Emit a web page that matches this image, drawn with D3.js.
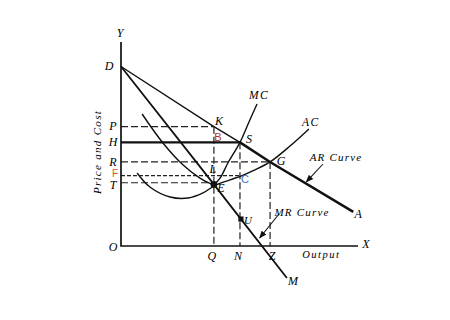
<!DOCTYPE html>
<html>
<head>
<meta charset="utf-8">
<script src="https://cdn.jsdelivr.net/npm/d3@7"></script>
<style>
  body { margin: 0; background: #fff; }
  text { font-family: "Liberation Serif", "DejaVu Serif", serif; font-style: italic; fill: #000; }
  .sans { font-family: "Liberation Sans", Arial, sans-serif; font-style: normal; }
</style>
</head>
<body>
<svg id="chart" width="450" height="320"></svg>
<script>
// curves in (output, price) units
var arCurve = [[0, 8.8], [3.92, 5.85], [5.02, 5.08]];
var arThick = [[5.02, 5.08], [6.29, 4.12], [9.8, 1.67]];
var mrCurve = [[0, 8.8], [3.92, 3.02], [5.06, 1.32], [7.0, -1.57]];
var mcCurve = [[0.89, 6.47], [1.77, 5.05], [2.62, 3.97], [3.33, 3.33], [3.71, 3.09], [3.92, 3.03],
               [4.18, 3.33], [4.51, 4.07], [5.02, 5.08], [5.40, 6.08], [5.74, 6.96]];
var acCurve = [[0.68, 3.58], [1.22, 2.89], [2.07, 2.40], [2.83, 2.35], [3.46, 2.60], [3.92, 2.94],
               [4.60, 3.24], [5.06, 3.43], [5.65, 3.73], [6.29, 4.12], [7.13, 4.90], [7.93, 5.74]];

// price levels and outputs
var priceLabels = ["P", "H", "R", "F", "T"];
var priceValues = [5.85, 5.08, 4.12, 3.45, 3.1];
var priceEnds   = [3.92, 5.02, 6.29, 5.06, 3.92];
var outputLabels = ["Q", "N", "Z"];
var outputValues = [3.92, 5.02, 6.29];
var outputTops   = [5.85, 5.08, 4.12];

var x = d3.scaleLinear().domain([0, 10]).range([121, 358]);
var y = d3.scaleLinear().domain([0, 10]).range([246, 42]);

var svg = d3.select("#chart");
var line = d3.line().x(function(d) { return x(d[0]); }).y(function(d) { return y(d[1]); });
var smooth = d3.line().curve(d3.curveCatmullRom.alpha(0.5))
    .x(function(d) { return x(d[0]); }).y(function(d) { return y(d[1]); });

svg.append("defs").append("marker")
    .attr("id", "arrow").attr("viewBox", "0 0 10 10")
    .attr("refX", 9).attr("refY", 5)
    .attr("markerWidth", 7).attr("markerHeight", 7)
    .attr("orient", "auto")
  .append("path").attr("d", "M0,1 L10,5 L0,9 Z").attr("fill", "#111");

// dashed guides
priceValues.forEach(function(v, i) {
  if (priceLabels[i] == "H") return;
  svg.append("line")
      .attr("x1", x(0)).attr("x2", x(priceEnds[i]))
      .attr("y1", y(v)).attr("y2", y(v))
      .attr("stroke", "#222").attr("stroke-width", 1.2)
      .attr("stroke-dasharray", priceLabels[i] == "F" ? "4,2" : "7,3");
});
outputValues.forEach(function(v, i) {
  svg.append("line")
      .attr("x1", x(v)).attr("x2", x(v))
      .attr("y1", y(outputTops[i])).attr("y2", y(0))
      .attr("stroke", "#222").attr("stroke-width", 1.2)
      .attr("stroke-dasharray", "7,3");
});

// H thick line
svg.append("line")
    .attr("x1", x(0)).attr("x2", x(priceEnds[1]))
    .attr("y1", y(priceValues[1])).attr("y2", y(priceValues[1]))
    .attr("stroke", "#111").attr("stroke-width", 2.4);

// axes
svg.append("path")
    .attr("d", "M" + x(0) + "," + y(10) + "V" + y(0) + "H" + x(10))
    .attr("fill", "none").attr("stroke", "#111").attr("stroke-width", 1.7);

// curves
svg.append("path").datum(arCurve).attr("d", line)
    .attr("fill", "none").attr("stroke", "#111").attr("stroke-width", 1.4);
svg.append("path").datum(arThick).attr("d", line)
    .attr("fill", "none").attr("stroke", "#111").attr("stroke-width", 2.5);
svg.append("path").datum(mrCurve).attr("d", line)
    .attr("fill", "none").attr("stroke", "#111").attr("stroke-width", 1.8);
svg.append("path").datum(mcCurve).attr("d", smooth)
    .attr("fill", "none").attr("stroke", "#111").attr("stroke-width", 1.4);
svg.append("path").datum(acCurve).attr("d", smooth)
    .attr("fill", "none").attr("stroke", "#111").attr("stroke-width", 1.4);

// points E and U
svg.append("circle").attr("cx", x(mrCurve[1][0])).attr("cy", y(mrCurve[1][1]))
    .attr("r", 3.4).attr("fill", "#111");
svg.append("rect").attr("x", x(mrCurve[2][0]) - 2.6).attr("y", y(mrCurve[2][1]) - 2.6)
    .attr("width", 5.2).attr("height", 5.2).attr("fill", "#111");

// arrows
svg.append("line").attr("x1", 323).attr("y1", 164).attr("x2", x(6.3) + 36).attr("y2", y(arThick[1][1]) + 20)
    .attr("stroke", "#111").attr("stroke-width", 1.1).attr("marker-end", "url(#arrow)");
svg.append("line").attr("x1", 279).attr("y1", 214).attr("x2", x(5.85)).attr("y2", y(0) - 8)
    .attr("stroke", "#111").attr("stroke-width", 1.1).attr("marker-end", "url(#arrow)");

function label(t, px, py, size, cls, color) {
  var el = svg.append("text")
      .attr("x", px).attr("y", py)
      .attr("text-anchor", "middle").attr("dominant-baseline", "central")
      .style("font-size", (size || 12) + "px")
      .text(t);
  if (cls) el.attr("class", cls);
  if (color) el.style("fill", color);
  return el;
}

// axis letters
label("Y", x(0) - 1, y(10) - 9, 12);
label("X", x(10) + 8, y(0) - 2, 12);
label("O", x(0) - 8, y(0) + 1, 12);
label("D", x(0) - 12, y(arCurve[0][1]), 12);
priceLabels.forEach(function(t, i) {
  var dx = t == "F" ? -6 : -8;
  var dy = t == "P" ? -1 : (t == "T" ? 2 : (t == "F" ? -2 : 0));
  label(t, x(0) + dx, y(priceValues[i]) + dy, t == "F" ? 10 : 12, t == "F" ? "sans" : null, t == "F" ? "#d9531e" : null);
});
outputLabels.forEach(function(t, i) {
  label(t, x(outputValues[i]) + (i == 2 ? 2 : -2), y(0) + 10, 12);
});
label("Output", x(8.45), y(0) + 8, 10.5).attr("letter-spacing", "1.5px");
label("Price and Cost", 97, 152, 11)
    .attr("letter-spacing", "1.3px")
    .attr("transform", "rotate(-90,97,152)");

// point labels
label("K", x(3.92) + 5, y(5.85) - 6, 12);
label("B", x(3.92) + 4, y(5.85) + 10, 11, "sans", "#a8342a");
label("S", x(5.02) + 9, y(5.08) - 3, 12);
label("G", x(6.29) + 11, y(4.12) - 1, 12);
label("L", x(3.92) - 1, y(3.45) - 7, 12);
label("C", x(5.06) + 4, y(3.43) + 3, 11, "sans", "#3a6fc4");
label("E", x(3.92) + 7, y(3.02) + 4, 12);
label("U", x(5.06) + 7, y(1.32) + 1, 11);
label("M", x(7.0) + 6, y(-1.57) + 3, 12);
label("A", x(9.8) + 5, y(1.67) + 2, 12);
label("MC", x(5.74) + 2, y(6.96) - 9, 11.5).attr("letter-spacing", "1.5px");
label("AC", x(7.93) + 2, y(5.74) - 7, 11.5).attr("letter-spacing", "1.5px");
label("AR Curve", 336, 157, 11).attr("letter-spacing", "1.2px");
label("MR Curve", 302, 212, 11).attr("letter-spacing", "1.2px");
</script>
</body>
</html>
